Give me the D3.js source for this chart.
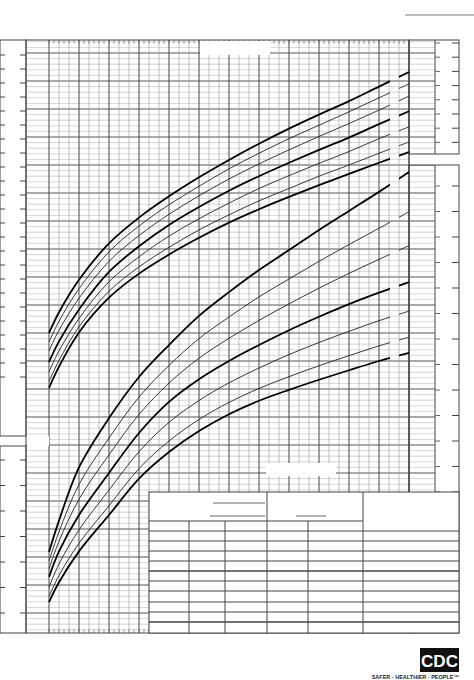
<!DOCTYPE html>
<html><head><meta charset="utf-8">
<script src="https://cdn.jsdelivr.net/npm/d3@7"></script>
<style>body{margin:0;background:#fff}svg{display:block}</style>
</head><body>
<svg id="c" width="474" height="680"></svg>
<script>
const ages = [0,1,3,6,9,12,15,18,21,24,27,30,33,36];
const percentiles = [5,10,25,50,75,90,95];
// length-for-age (cm)
const len5  = [45.2,49.0,55.1,61.3,65.6,69.0,72.0,74.7,77.1,79.3,81.4,83.4,85.4,87.3];
const len10 = [46.35,50.1,56.1,62.45,66.8,70.3,73.4,76.1,78.6,80.8,83.0,85.0,87.1,89.1];
const len25 = [48.05,51.8,57.6,64.15,68.6,72.3,75.4,78.2,80.8,83.1,85.3,87.4,89.7,91.8];
const len50 = [49.8,53.5,59.2,65.9,70.5,74.3,77.5,80.4,83.0,85.4,87.7,89.9,92.3,94.6];
const len75 = [51.8,55.5,61.2,67.8,72.4,76.2,79.5,82.5,85.2,87.7,90.1,92.4,94.8,97.3];
const len90 = [53.4,57.1,62.9,69.5,74.1,77.9,81.2,84.3,87.1,89.7,92.1,94.5,97.0,99.5];
const len95 = [55.0,58.7,64.5,71.0,75.6,79.4,82.8,85.9,88.8,91.5,94.0,96.4,99.0,101.6];
// weight-for-age (kg)
const wt5  = [2.39,3.10,4.20,5.50,6.80,7.75,8.50,9.10,9.58,9.97,10.33,10.67,11.00,11.29];
const wt10 = [2.59,3.34,4.49,5.83,7.16,8.14,8.91,9.52,10.02,10.44,10.83,11.19,11.54,11.85];
const wt25 = [2.92,3.75,4.97,6.39,7.76,8.81,9.59,10.22,10.75,11.23,11.66,12.06,12.44,12.78];
const wt50 = [3.29,4.20,5.50,7.00,8.43,9.54,10.35,11.00,11.57,12.10,12.58,13.03,13.44,13.82];
const wt75 = [3.58,4.56,6.06,7.65,9.09,10.21,11.10,11.81,12.45,13.04,13.60,14.13,14.63,15.12];
const wt90 = [3.86,4.90,6.59,8.25,9.71,10.84,11.80,12.57,13.29,13.93,14.56,15.16,15.74,16.33];
const wt95 = [4.18,5.30,7.20,8.96,10.43,11.57,12.61,13.46,14.25,14.96,15.68,16.36,17.04,17.75];

const lenSeries = [len5,len10,len25,len50,len75,len90,len95];
const wtSeries = [wt5,wt10,wt25,wt50,wt75,wt90,wt95];

const svg = d3.select("#c");
const x = d3.scaleLinear().domain([0,36]).range([49,409]);
const yL = d3.scaleLinear().domain([45,105]).range([389,53]);
const yW = d3.scaleLinear().domain([2,22]).range([613,53]);

const gTop=40,gBot=633;
const g = svg.append("g");
d3.range(1.4,22.5,0.2).forEach(v=>{
  const yy=yW(v); if(yy<gTop||yy>gBot) return;
  const major=Math.abs(v-Math.round(v))<1e-6;
  g.append("line").attr("x1",26).attr("x2",435).attr("y1",yy).attr("y2",yy)
   .attr("stroke",major?"#555":"#bbb").attr("stroke-width",major?1:0.6);
});
d3.range(0,37,1).forEach(a=>{
  const major=a%3===0;
  g.append("line").attr("x1",x(a)).attr("x2",x(a)).attr("y1",gTop).attr("y2",gBot)
   .attr("stroke",major?"#444":"#999").attr("stroke-width",major?1:0.6);
});
d3.range(0,36.01,0.5).forEach(a=>{
  g.append("line").attr("x1",x(a)).attr("x2",x(a)).attr("y1",gTop).attr("y2",gTop+4).attr("stroke","#666").attr("stroke-width",0.6);
  g.append("line").attr("x1",x(a)).attr("x2",x(a)).attr("y1",gBot-4).attr("y2",gBot).attr("stroke","#666").attr("stroke-width",0.6);
});
svg.append("rect").attr("x",200).attr("y",41).attr("width",70).attr("height",14).attr("fill","#fff");
svg.append("rect").attr("x",266).attr("y",463).attr("width",70).attr("height",13).attr("fill","#fff");
svg.append("rect").attr("x",27).attr("y",436).attr("width",22).attr("height",10).attr("fill","#fff");
svg.append("rect").attr("x",410).attr("y",154).attr("width",49).attr("height",11).attr("fill","#fff");

const fr = (x1,y1,x2,y2)=>svg.append("rect").attr("x",x1).attr("y",y1).attr("width",x2-x1).attr("height",y2-y1).attr("fill","none").attr("stroke","#444").attr("stroke-width",1);
svg.append("rect").attr("x",0).attr("y",40).attr("width",26).attr("height",396).attr("fill","#fff");
svg.append("rect").attr("x",0).attr("y",446).attr("width",26).attr("height",187).attr("fill","#fff");
svg.append("rect").attr("x",435).attr("y",40).attr("width",24).attr("height",114).attr("fill","#fff");
svg.append("rect").attr("x",435).attr("y",165).attr("width",24).attr("height",468).attr("fill","#fff");
fr(0,40,26,436); fr(0,446,26,633); fr(26,40,409,633);
fr(409,40,459,154); fr(409,165,459,633);
svg.append("line").attr("x1",435).attr("x2",435).attr("y1",40).attr("y2",154).attr("stroke","#444");
svg.append("line").attr("x1",435).attr("x2",435).attr("y1",165).attr("y2",633).attr("stroke","#444");
d3.range(45,106,2.5).forEach(v=>{
  const yy=yL(v)-12; if(yy<42||yy>434) return;
  svg.append("line").attr("x1",0).attr("x2",5).attr("y1",yy).attr("y2",yy).attr("stroke","#444");
  svg.append("line").attr("x1",20).attr("x2",26).attr("y1",yy).attr("y2",yy).attr("stroke","#444");
});
d3.range(0,20).forEach(i=>{
  const yy=460+i*25.5; if(yy>630) return;
  svg.append("line").attr("x1",0).attr("x2",5).attr("y1",yy).attr("y2",yy).attr("stroke","#444");
  svg.append("line").attr("x1",20).attr("x2",26).attr("y1",yy).attr("y2",yy).attr("stroke","#444");
});
d3.range(0,30).forEach(i=>{
  const yy=43+i*14.2; if(yy>152) return;
  svg.append("line").attr("x1",452).attr("x2",459).attr("y1",yy).attr("y2",yy).attr("stroke","#444");
  svg.append("line").attr("x1",435).attr("x2",440).attr("y1",yy).attr("y2",yy).attr("stroke","#666");
});
d3.range(0,30).forEach(i=>{
  const yy=186+i*25.5; if(yy>630) return;
  svg.append("line").attr("x1",452).attr("x2",459).attr("y1",yy).attr("y2",yy).attr("stroke","#444");
  svg.append("line").attr("x1",435).attr("x2",440).attr("y1",yy).attr("y2",yy).attr("stroke","#666");
});

const defs=svg.append("defs");
const cp=defs.append("clipPath").attr("id","gap");
cp.append("rect").attr("x",0).attr("y",0).attr("width",x(34.1)).attr("height",680);
cp.append("rect").attr("x",x(35)).attr("y",0).attr("width",100).attr("height",680);
const curves=svg.append("g").attr("clip-path","url(#gap)");
const mk=(ys)=>d3.line().x((d,i)=>x(ages[i])).y(d=>ys(d)).curve(d3.curveCatmullRom.alpha(0.5));
lenSeries.forEach((s,i)=>{
  const heavy=[5,50,95].includes(percentiles[i]);
  curves.append("path").attr("d",mk(yL)(s)).attr("fill","none").attr("stroke",heavy?"#000":"#222").attr("stroke-width",heavy?1.8:0.9);
});
wtSeries.forEach((s,i)=>{
  const heavy=[5,50,95].includes(percentiles[i]);
  curves.append("path").attr("d",mk(yW)(s)).attr("fill","none").attr("stroke",heavy?"#000":"#222").attr("stroke-width",heavy?1.8:0.9);
});

svg.append("rect").attr("x",149).attr("y",492).attr("width",310).attr("height",141).attr("fill","#fff").attr("stroke","#444");
const T=(x1,y1,x2,y2,w)=>svg.append("line").attr("x1",x1).attr("x2",x2).attr("y1",y1).attr("y2",y2).attr("stroke","#444").attr("stroke-width",w||1);
T(149,521,363,521); T(267,492,267,633); T(363,492,363,633);
T(189,521,189,633); T(225,521,225,633); T(308,521,308,633);
[531,541,551,561,571,581,591,602,612,622].forEach((yy,i)=>T(149,yy,459,yy,(i===4||i===9)?1.4:1));
T(213,503,265,503,0.8); T(210,516,265,516,0.8); T(296,516,326,516,0.8);
svg.append("line").attr("x1",405).attr("x2",474).attr("y1",15).attr("y2",15).attr("stroke","#aaa").attr("stroke-width",1.5);
svg.append("rect").attr("x",420).attr("y",648).attr("width",39).attr("height",24).attr("fill","#111");
svg.append("text").attr("x",439.5).attr("y",667).attr("text-anchor","middle").attr("fill","#fff")
  .attr("font-family","Liberation Sans Narrow, Liberation Sans, sans-serif").attr("font-weight","bold").attr("font-size",17).text("CDC");
svg.append("text").attr("x",459).attr("y",679).attr("text-anchor","end").attr("fill","#222")
  .attr("font-family","Liberation Sans, sans-serif").attr("font-weight","bold").attr("font-size",5.5).text("SAFER · HEALTHIER · PEOPLE™");
</script></body></html>
